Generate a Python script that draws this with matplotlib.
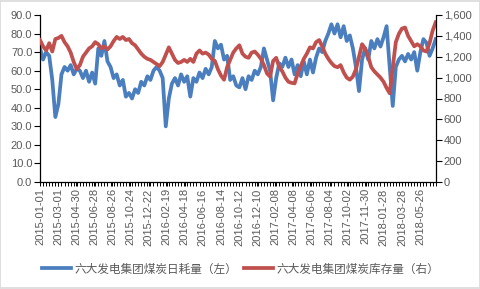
import numpy as np
import pandas as pd
import matplotlib
matplotlib.use('Agg')
from matplotlib import pyplot as plt
from matplotlib.patches import Rectangle
from matplotlib.ticker import FuncFormatter

# 日付（日次、2日欠け）
dates = pd.date_range('2015-01-01', '2018-07-17', freq='D')
dates = dates.drop([pd.Timestamp('2015-04-05'), pd.Timestamp('2017-01-01')])
step = 10  # 10日ごとに読み取った値

# 六大发电集团煤炭日耗量（左） 万吨
blue = [72, 66, 70, 68, 55, 35, 42, 58, 62, 60,
        63, 58, 61, 60, 56, 60, 54, 59, 53, 72,
        68, 76, 65, 62, 56, 58, 52, 55, 46, 48,
        45, 50, 48, 54, 52, 57, 55, 60, 62, 60,
        56, 30, 45, 53, 56, 52, 58, 54, 57, 46,
        56, 54, 59, 56, 61, 58, 62, 76, 72, 74,
        66, 68, 55, 57, 52, 51, 56, 50, 57, 55,
        60, 58, 62, 72, 66, 60, 44, 56, 64, 62,
        67, 62, 66, 58, 63, 57, 65, 58, 66, 59,
        67, 72, 70, 76, 80, 85, 80, 85, 78, 84,
        76, 79, 72, 62, 49, 66, 72, 66, 76, 72,
        77, 73, 78, 84, 62, 41, 62, 66, 68, 65,
        69, 66, 70, 60, 70, 77, 75, 68, 72, 77]

# 六大发电集团煤炭库存量（右） 万吨
red = [1360, 1300, 1260, 1330, 1250, 1370, 1380, 1400, 1340, 1300,
       1240, 1150, 1080, 1120, 1200, 1240, 1280, 1300, 1340, 1320,
       1280, 1300, 1270, 1300, 1350, 1390, 1370, 1390, 1360, 1370,
       1330, 1310, 1270, 1230, 1200, 1180, 1170, 1150, 1130, 1110,
       1150, 1220, 1290, 1230, 1170, 1140, 1150, 1170, 1150, 1180,
       1150, 1230, 1260, 1230, 1240, 1220, 1180, 1160, 1080, 1020,
       980, 1100, 1170, 1240, 1280, 1310, 1230, 1200, 1190, 1240,
       1250, 1220, 1180, 1120, 1040, 1010, 1160, 1190, 1100, 1060,
       1000, 960, 950, 945, 1040, 1110, 1180, 1230, 1290, 1280,
       1340, 1360, 1300, 1230, 1180, 1140, 1110, 1100, 1120, 1050,
       1000, 980, 1010, 1080, 1200, 1320, 1280, 1200, 1100, 1060,
       1030, 1000, 960, 900, 850, 1100, 1340, 1420, 1470, 1480,
       1400, 1350, 1300, 1320, 1300, 1260, 1250, 1330, 1450, 1530]

label_blue = '六大发电集团煤炭日耗量（左）'
label_red = '六大发电集团煤炭库存量（右）'

plt.rcParams['font.family'] = ['Liberation Sans', 'Noto Sans CJK SC', 'DejaVu Sans']

c_blue = '#4a7ebf'
c_red = '#c0504d'
c_text = '#595959'

fig = plt.figure(figsize=(4.81, 2.89), dpi=100)
fig.patches.append(Rectangle((0.001, 0.002), 0.997, 0.995, transform=fig.transFigure,
                             fill=False, edgecolor='#d9d9d9', linewidth=1.2))

ax = fig.add_axes([40 / 481, 1 - 182 / 289, 396 / 481, 167 / 289])
idx = np.arange(len(blue)) * step
l1, = ax.plot(idx, blue, color=c_blue, lw=2.7, label=label_blue, solid_joinstyle='round')
ax.set_xlim(0, len(dates) - 1)
ax.set_ylim(0, 90)
ax.set_yticks(np.arange(0, 91, 10))
ax.yaxis.set_major_formatter(FuncFormatter(lambda v, p: '%.1f' % v))

ax2 = ax.twinx()
l2, = ax2.plot(idx, red, color=c_red, lw=2.7, label=label_red, solid_joinstyle='round')
ax2.set_ylim(0, 1600)
ax2.set_yticks(np.arange(0, 1601, 200))
ax2.yaxis.set_major_formatter(FuncFormatter(lambda v, p: '{:,.0f}'.format(v)))

# x軸ラベル：59日ごと
pos = np.arange(0, len(dates) - 40, 59)
ax.set_xticks(pos)
ax.set_xticklabels([dates[i].strftime('%Y-%m-%d') for i in pos], rotation=90)
ax.set_xticks(np.arange(0, len(dates), 10), minor=True)

for a in (ax, ax2):
    a.spines['top'].set_visible(False)
    for s in a.spines.values():
        s.set_color('black')
        s.set_linewidth(0.9)
    a.tick_params(colors=c_text, labelsize=8, length=4, width=0.8, pad=1.5)
    a.tick_params(axis='x', which='both', color='black', length=3, width=0.7)
    a.tick_params(axis='y', color='black')
ax.spines['right'].set_visible(False)
ax2.spines['left'].set_visible(False)
ax2.spines['bottom'].set_visible(False)

fig.legend(handles=[l1, l2], loc='center', bbox_to_anchor=(0.5, 1 - 269 / 289),
           ncol=2, frameon=False, prop={'family': ['Noto Sans CJK SC'], 'size': 8.4},
           labelcolor=c_text, handlelength=2.5, handletextpad=0.25, columnspacing=0.6)

plt.savefig('out.png', dpi=100)
